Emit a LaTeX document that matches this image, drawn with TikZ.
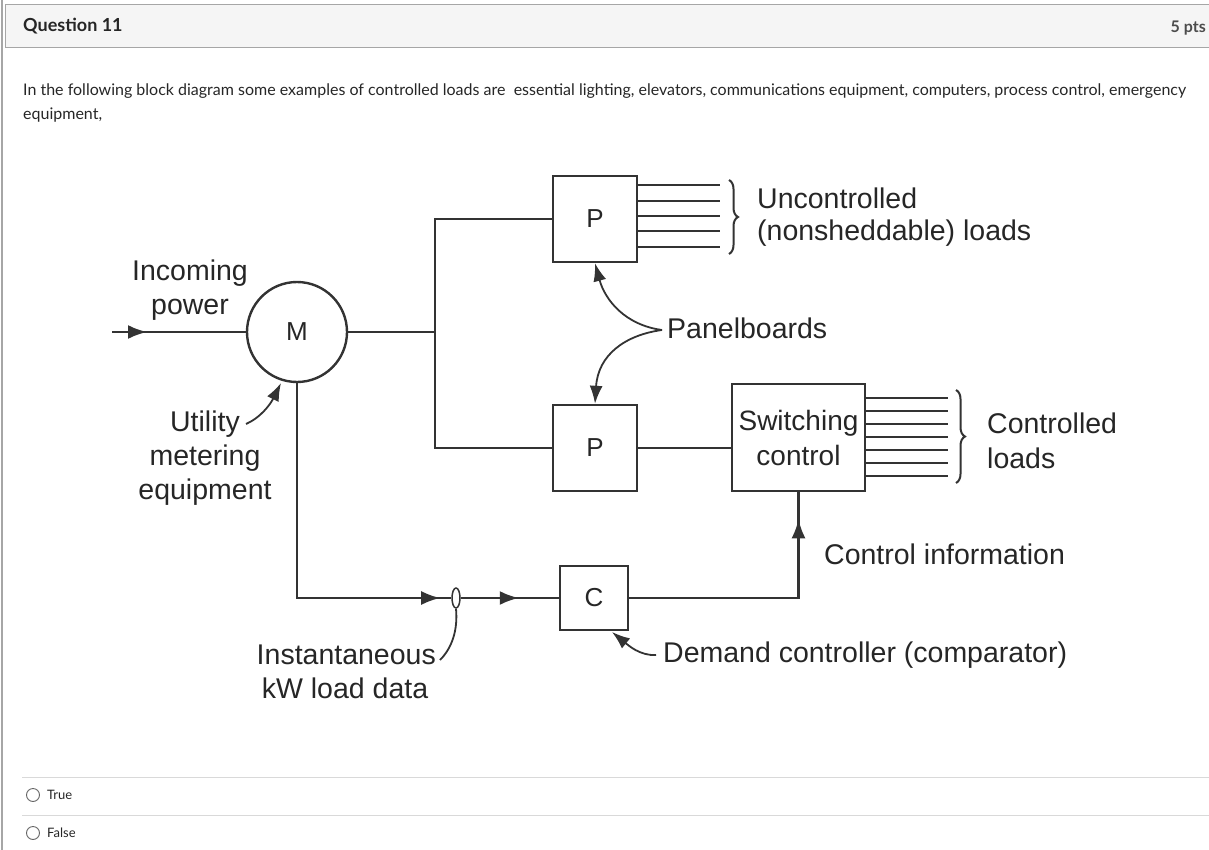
\documentclass[tikz,border=0pt]{standalone}
\usepackage{fontspec}
\setmainfont{Liberation Sans}
\newfontfamily\lato{Lato}
\usetikzlibrary{arrows.meta,decorations.markings,decorations.pathreplacing,shapes.geometric}
\begin{document}
\begin{tikzpicture}[x=1pt,y=-1pt,
  line width=2.4pt, draw=black!80,
  tip/.style={-{Latex[length=18pt,width=13pt]}},
  mid/.style={decoration={markings,mark=at position #1 with {\arrow{Latex[length=19pt,width=14pt]}}},postaction=decorate},
  box/.style={draw=black!80,line width=2.4pt,inner sep=0pt,text=black!85,font=\fontsize{26}{28}\selectfont},
  lbl/.style={inner sep=0pt,text=black!85,font=\fontsize{28.5}{34}\selectfont},
  brc/.style={decorate,decoration={brace,amplitude=9pt},line width=2pt},
  load/.style={line width=2.4pt},
  hdr/.style={inner sep=0pt,font=\lato\fontsize{16}{20}\selectfont,text=black!85}]
\useasboundingbox (0,0) rectangle (1209,850);
% page frame
\fill[black!4] (5,5) rectangle (1209,48);
\draw[black!35,line width=1pt] (1209,5) -- (5,5) -- (5,48) -- (1209,48);
\draw[black!35,line width=1.5pt] (2,0) -- (2,850);
\node[hdr,anchor=west,font=\lato\bfseries\fontsize{18}{22}\selectfont] (q) at (22,26) {Question 11};
\node[hdr,anchor=east,font=\lato\bfseries\fontsize{16}{22}\selectfont,text=black!70] (pts) at (1207,28) {5 pts};
\node[hdr,anchor=west] (t1) at (22,91) {In the following block diagram some examples of controlled loads are\ \ essential lighting, elevators, communications equipment, computers, process control, emergency};
\node[hdr,anchor=west] (t2) at (22,115) {equipment,};
\draw[black!15,line width=1pt] (22,777) -- (1209,777) (22,815) -- (1209,815);
\draw[black!60,line width=0.9pt] (33,795) circle (6.5) (33,833) circle (6.5);
\node[hdr,anchor=west,font=\lato\fontsize{13}{16}\selectfont] (tr) at (46,795) {True};
\node[hdr,anchor=west,font=\lato\fontsize{13}{16}\selectfont] (fa) at (46,833) {False};
% diagram
\node[box,circle,minimum size=100pt] (M) at (297,332) {M};
\node[box,minimum width=84pt,minimum height=86pt] (P1) at (595,219) {P};
\node[box,minimum width=84pt,minimum height=86pt] (P2) at (595,448) {P};
\node[box,minimum width=133pt,minimum height=107pt,align=center,font=\fontsize{28}{35}\selectfont] (S) at (798.5,437.5) {Switching\\control};
\node[box,minimum width=68pt,minimum height=64pt] (C) at (594,598) {C};
\coordinate (in) at (112,332);
\coordinate (j) at (435,332);
\coordinate (bl) at (297,598);
\coordinate (cp) at (612,632);
\coordinate (mp) at (281,383);
\node[draw=black!80,ellipse,line width=1.5pt,minimum width=8pt,minimum height=20pt,inner sep=0pt] (E) at (456,598) {};
\draw[mid=35pt] (in) -- (M.west);
\draw (M.east) -- (j);
\draw[line join=miter] (j) |- (P1.west);
\draw[line join=miter] (j) |- (P2.west);
\draw (P2.east) -- (P2.east -| S.west);
\draw[mid=358pt] (M.south) -- (bl) -- (E.west);
\draw[mid=58pt] (E.east) -- (C.west);
\draw[mid=248pt] (C.east) -| (S.south);
% loads
\foreach \y in {185,201,216,231,247} \draw[load] (637,\y) -- (720,\y);
\foreach \y in {398,411,424,437,450,463,476} \draw[load] (865,\y) -- (948,\y);
\draw[brc] (729,180) -- (729,254);
\draw[brc] (956,390) -- (956,483);
% labels
\node[lbl,anchor=west] (u1) at (756,198) {Uncontrolled};
\node[lbl,anchor=west] (u2) at (756,233) {(nonsheddable) loads};
\node[lbl,anchor=west] (c1) at (986,423) {Controlled};
\node[lbl,anchor=west] (c2) at (986,458) {loads};
\node[lbl,anchor=west] (pb) at (666,328) {Panelboards};
\node[lbl,align=center] (inc) at (190,290) {Incoming\\power};
\node[lbl,align=center] (ut) at (205,458) {Utility\\metering\\equipment};
\node[lbl,anchor=east] (ins) at (437,655) {Instantaneous};
\node[lbl] (kw) at (345,688) {kW load data};
\node[lbl,anchor=west] (ci) at (823,554) {Control information};
\node[lbl,anchor=west] (dc) at (662,655) {Demand controller (comparator)};
% leaders
\coordinate (pk) at (662,330);
\draw[tip,line width=1.8pt] (pk) .. controls (625,325) and (605,300) .. (P1.south);
\draw[tip,line width=1.8pt] (pk) .. controls (625,335) and (598,355) .. (P2.north);
\draw[tip,line width=1.8pt] (246,424) .. controls (260,418) and (270,405) .. (mp);
\draw[line width=1.8pt] (440,660) .. controls (452,648) and (458,630) .. (E.south);
\draw[tip,line width=1.8pt] (656,655) .. controls (640,656) and (628,645) .. (cp);
\end{tikzpicture}
\end{document}
